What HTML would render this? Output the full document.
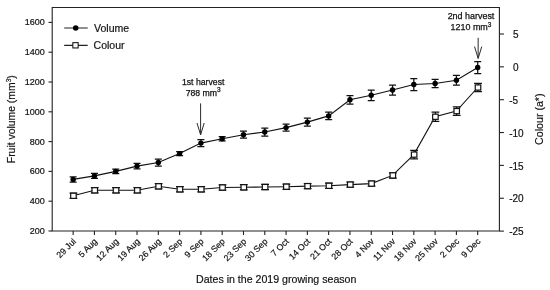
<!DOCTYPE html>
<html><head><meta charset="utf-8"><title>Fruit volume and colour</title>
<style>html,body{margin:0;padding:0;background:#fff}svg{display:block}text{stroke:#111;stroke-width:.18px}text.t{stroke-width:.2px}text.a{stroke-width:.25px}</style></head>
<body>
<svg width="550" height="290" viewBox="0 0 550 290" font-family="Liberation Sans, Arial, sans-serif" fill="#111">
<rect width="550" height="290" fill="#fff"/>
<g stroke="#222" stroke-width="1.1" fill="none">
<path d="M52.2 7.5H499.4V231.0H52.2Z"/>
<path d="M48.5 22.40H52.2"/>
<path d="M48.5 52.20H52.2"/>
<path d="M48.5 82.00H52.2"/>
<path d="M48.5 111.80H52.2"/>
<path d="M48.5 141.60H52.2"/>
<path d="M48.5 171.40H52.2"/>
<path d="M48.5 201.20H52.2"/>
<path d="M48.5 231.00H52.2"/>
<path d="M499.4 34.00H503.9"/>
<path d="M499.4 66.85H503.9"/>
<path d="M499.4 99.70H503.9"/>
<path d="M499.4 132.55H503.9"/>
<path d="M499.4 165.40H503.9"/>
<path d="M499.4 198.25H503.9"/>
<path d="M499.4 231.10H503.9"/>
<path d="M73.15 231.0V235.0"/>
<path d="M94.44 231.0V235.0"/>
<path d="M115.73 231.0V235.0"/>
<path d="M137.03 231.0V235.0"/>
<path d="M158.32 231.0V235.0"/>
<path d="M179.61 231.0V235.0"/>
<path d="M200.90 231.0V235.0"/>
<path d="M222.19 231.0V235.0"/>
<path d="M243.49 231.0V235.0"/>
<path d="M264.78 231.0V235.0"/>
<path d="M286.07 231.0V235.0"/>
<path d="M307.36 231.0V235.0"/>
<path d="M328.65 231.0V235.0"/>
<path d="M349.95 231.0V235.0"/>
<path d="M371.24 231.0V235.0"/>
<path d="M392.53 231.0V235.0"/>
<path d="M413.82 231.0V235.0"/>
<path d="M435.11 231.0V235.0"/>
<path d="M456.41 231.0V235.0"/>
<path d="M477.70 231.0V235.0"/>
</g>
<text x="44.7" y="25.45" font-size="9" text-anchor="end" class="t">1600</text>
<text x="44.7" y="55.25" font-size="9" text-anchor="end" class="t">1400</text>
<text x="44.7" y="85.05" font-size="9" text-anchor="end" class="t">1200</text>
<text x="44.7" y="114.85" font-size="9" text-anchor="end" class="t">1000</text>
<text x="44.7" y="144.65" font-size="9" text-anchor="end" class="t">800</text>
<text x="44.7" y="174.45" font-size="9" text-anchor="end" class="t">600</text>
<text x="44.7" y="204.25" font-size="9" text-anchor="end" class="t">400</text>
<text x="44.7" y="234.05" font-size="9" text-anchor="end" class="t">200</text>
<text x="513" y="38.10" font-size="10">5</text>
<text x="513" y="70.95" font-size="10">0</text>
<text x="509.2" y="103.80" font-size="10">-5</text>
<text x="509.2" y="136.65" font-size="10">-10</text>
<text x="509.2" y="169.50" font-size="10">-15</text>
<text x="509.2" y="202.35" font-size="10">-20</text>
<text x="509.2" y="235.20" font-size="10">-25</text>
<text transform="translate(76.55 242.0) rotate(-45)" font-size="8.8" text-anchor="end">29 Jul</text>
<text transform="translate(97.84 242.0) rotate(-45)" font-size="8.8" text-anchor="end">5 Aug</text>
<text transform="translate(119.13 242.0) rotate(-45)" font-size="8.8" text-anchor="end">12 Aug</text>
<text transform="translate(140.43 242.0) rotate(-45)" font-size="8.8" text-anchor="end">19 Aug</text>
<text transform="translate(161.72 242.0) rotate(-45)" font-size="8.8" text-anchor="end">26 Aug</text>
<text transform="translate(183.01 242.0) rotate(-45)" font-size="8.8" text-anchor="end">2 Sep</text>
<text transform="translate(204.30 242.0) rotate(-45)" font-size="8.8" text-anchor="end">9 Sep</text>
<text transform="translate(225.59 242.0) rotate(-45)" font-size="8.8" text-anchor="end">18 Sep</text>
<text transform="translate(246.89 242.0) rotate(-45)" font-size="8.8" text-anchor="end">23 Sep</text>
<text transform="translate(268.18 242.0) rotate(-45)" font-size="8.8" text-anchor="end">30 Sep</text>
<text transform="translate(289.47 242.0) rotate(-45)" font-size="8.8" text-anchor="end">7 Oct</text>
<text transform="translate(310.76 242.0) rotate(-45)" font-size="8.8" text-anchor="end">14 Oct</text>
<text transform="translate(332.05 242.0) rotate(-45)" font-size="8.8" text-anchor="end">21 Oct</text>
<text transform="translate(353.35 242.0) rotate(-45)" font-size="8.8" text-anchor="end">28 Oct</text>
<text transform="translate(374.64 242.0) rotate(-45)" font-size="8.8" text-anchor="end">4 Nov</text>
<text transform="translate(395.93 242.0) rotate(-45)" font-size="8.8" text-anchor="end">11 Nov</text>
<text transform="translate(417.22 242.0) rotate(-45)" font-size="8.8" text-anchor="end">18 Nov</text>
<text transform="translate(438.51 242.0) rotate(-45)" font-size="8.8" text-anchor="end">25 Nov</text>
<text transform="translate(459.81 242.0) rotate(-45)" font-size="8.8" text-anchor="end">2 Dec</text>
<text transform="translate(481.10 242.0) rotate(-45)" font-size="8.8" text-anchor="end">9 Dec</text>
<g stroke="#111" stroke-width="1.1" fill="none">
<polyline points="73.15,179.40 94.44,175.90 115.73,171.40 137.03,166.10 158.32,162.50 179.61,153.60 200.90,143.10 222.19,138.70 243.49,134.70 264.78,132.00 286.07,127.60 307.36,122.10 328.65,115.90 349.95,99.80 371.24,95.30 392.53,90.00 413.82,84.50 435.11,83.50 456.41,80.20 477.70,67.50"/>
<polyline points="73.15,195.80 94.44,190.30 115.73,190.30 137.03,190.30 158.32,186.30 179.61,189.30 200.90,189.30 222.19,187.50 243.49,187.30 264.78,187.00 286.07,186.70 307.36,186.10 328.65,185.80 349.95,184.60 371.24,183.60 392.53,175.40 413.82,154.60 435.11,116.75 456.41,111.10 477.70,87.50"/>
</g>
<g stroke="#111" stroke-width="1.25" fill="none">
<path d="M73.15 176.80V182.00M69.65 176.80h7M69.65 182.00h7"/>
<path d="M94.44 173.40V178.40M90.94 173.40h7M90.94 178.40h7"/>
<path d="M115.73 169.20V173.60M112.23 169.20h7M112.23 173.60h7"/>
<path d="M137.03 163.30V168.90M133.53 163.30h7M133.53 168.90h7"/>
<path d="M158.32 159.00V166.00M154.82 159.00h7M154.82 166.00h7"/>
<path d="M179.61 151.50V155.70M176.11 151.50h7M176.11 155.70h7"/>
<path d="M200.90 139.50V146.70M197.40 139.50h7M197.40 146.70h7"/>
<path d="M222.19 136.50V140.90M218.69 136.50h7M218.69 140.90h7"/>
<path d="M243.49 131.20V138.20M239.99 131.20h7M239.99 138.20h7"/>
<path d="M264.78 128.00V136.00M261.28 128.00h7M261.28 136.00h7"/>
<path d="M286.07 124.10V131.10M282.57 124.10h7M282.57 131.10h7"/>
<path d="M307.36 118.10V126.10M303.86 118.10h7M303.86 126.10h7"/>
<path d="M328.65 112.10V119.70M325.15 112.10h7M325.15 119.70h7"/>
<path d="M349.95 95.50V104.10M346.45 95.50h7M346.45 104.10h7"/>
<path d="M371.24 90.10V100.50M367.74 90.10h7M367.74 100.50h7"/>
<path d="M392.53 85.00V95.00M389.03 85.00h7M389.03 95.00h7"/>
<path d="M413.82 78.50V90.50M410.32 78.50h7M410.32 90.50h7"/>
<path d="M435.11 79.40V87.60M431.61 79.40h7M431.61 87.60h7"/>
<path d="M456.41 75.30V85.10M452.91 75.30h7M452.91 85.10h7"/>
<path d="M477.70 61.50V73.50M474.20 61.50h7M474.20 73.50h7"/>
<path d="M73.45 193.20V198.40M69.55 193.20h7.8M69.55 198.40h7.8"/>
<path d="M94.74 187.70V192.90M90.84 187.70h7.8M90.84 192.90h7.8"/>
<path d="M116.03 187.70V192.90M112.13 187.70h7.8M112.13 192.90h7.8"/>
<path d="M137.33 187.70V192.90M133.43 187.70h7.8M133.43 192.90h7.8"/>
<path d="M158.62 183.70V188.90M154.72 183.70h7.8M154.72 188.90h7.8"/>
<path d="M179.91 186.70V191.90M176.01 186.70h7.8M176.01 191.90h7.8"/>
<path d="M201.20 186.70V191.90M197.30 186.70h7.8M197.30 191.90h7.8"/>
<path d="M222.49 184.90V190.10M218.59 184.90h7.8M218.59 190.10h7.8"/>
<path d="M243.79 184.70V189.90M239.89 184.70h7.8M239.89 189.90h7.8"/>
<path d="M265.08 184.40V189.60M261.18 184.40h7.8M261.18 189.60h7.8"/>
<path d="M286.37 184.10V189.30M282.47 184.10h7.8M282.47 189.30h7.8"/>
<path d="M307.66 183.50V188.70M303.76 183.50h7.8M303.76 188.70h7.8"/>
<path d="M328.95 183.20V188.40M325.05 183.20h7.8M325.05 188.40h7.8"/>
<path d="M350.25 182.00V187.20M346.35 182.00h7.8M346.35 187.20h7.8"/>
<path d="M371.54 181.00V186.20M367.64 181.00h7.8M367.64 186.20h7.8"/>
<path d="M392.83 172.80V178.00M388.93 172.80h7.8M388.93 178.00h7.8"/>
<path d="M414.12 150.40V158.80M410.22 150.40h7.8M410.22 158.80h7.8"/>
<path d="M435.41 112.05V121.45M431.51 112.05h7.8M431.51 121.45h7.8"/>
<path d="M456.71 106.80V115.40M452.81 106.80h7.8M452.81 115.40h7.8"/>
<path d="M478.00 83.40V91.60M474.10 83.40h7.8M474.10 91.60h7.8"/>
</g>
<circle cx="73.15" cy="179.40" r="2.7" fill="#000"/>
<circle cx="94.44" cy="175.90" r="2.7" fill="#000"/>
<circle cx="115.73" cy="171.40" r="2.7" fill="#000"/>
<circle cx="137.03" cy="166.10" r="2.7" fill="#000"/>
<circle cx="158.32" cy="162.50" r="2.7" fill="#000"/>
<circle cx="179.61" cy="153.60" r="2.7" fill="#000"/>
<circle cx="200.90" cy="143.10" r="2.7" fill="#000"/>
<circle cx="222.19" cy="138.70" r="2.7" fill="#000"/>
<circle cx="243.49" cy="134.70" r="2.7" fill="#000"/>
<circle cx="264.78" cy="132.00" r="2.7" fill="#000"/>
<circle cx="286.07" cy="127.60" r="2.7" fill="#000"/>
<circle cx="307.36" cy="122.10" r="2.7" fill="#000"/>
<circle cx="328.65" cy="115.90" r="2.7" fill="#000"/>
<circle cx="349.95" cy="99.80" r="2.7" fill="#000"/>
<circle cx="371.24" cy="95.30" r="2.7" fill="#000"/>
<circle cx="392.53" cy="90.00" r="2.7" fill="#000"/>
<circle cx="413.82" cy="84.50" r="2.7" fill="#000"/>
<circle cx="435.11" cy="83.50" r="2.7" fill="#000"/>
<circle cx="456.41" cy="80.20" r="2.7" fill="#000"/>
<circle cx="477.70" cy="67.50" r="2.7" fill="#000"/>
<rect x="70.70" y="193.20" width="5.5" height="5.2" fill="#fff" stroke="#111" stroke-width="1.2"/>
<rect x="91.99" y="187.70" width="5.5" height="5.2" fill="#fff" stroke="#111" stroke-width="1.2"/>
<rect x="113.28" y="187.70" width="5.5" height="5.2" fill="#fff" stroke="#111" stroke-width="1.2"/>
<rect x="134.58" y="187.70" width="5.5" height="5.2" fill="#fff" stroke="#111" stroke-width="1.2"/>
<rect x="155.87" y="183.70" width="5.5" height="5.2" fill="#fff" stroke="#111" stroke-width="1.2"/>
<rect x="177.16" y="186.70" width="5.5" height="5.2" fill="#fff" stroke="#111" stroke-width="1.2"/>
<rect x="198.45" y="186.70" width="5.5" height="5.2" fill="#fff" stroke="#111" stroke-width="1.2"/>
<rect x="219.74" y="184.90" width="5.5" height="5.2" fill="#fff" stroke="#111" stroke-width="1.2"/>
<rect x="241.04" y="184.70" width="5.5" height="5.2" fill="#fff" stroke="#111" stroke-width="1.2"/>
<rect x="262.33" y="184.40" width="5.5" height="5.2" fill="#fff" stroke="#111" stroke-width="1.2"/>
<rect x="283.62" y="184.10" width="5.5" height="5.2" fill="#fff" stroke="#111" stroke-width="1.2"/>
<rect x="304.91" y="183.50" width="5.5" height="5.2" fill="#fff" stroke="#111" stroke-width="1.2"/>
<rect x="326.20" y="183.20" width="5.5" height="5.2" fill="#fff" stroke="#111" stroke-width="1.2"/>
<rect x="347.50" y="182.00" width="5.5" height="5.2" fill="#fff" stroke="#111" stroke-width="1.2"/>
<rect x="368.79" y="181.00" width="5.5" height="5.2" fill="#fff" stroke="#111" stroke-width="1.2"/>
<rect x="390.08" y="172.80" width="5.5" height="5.2" fill="#fff" stroke="#111" stroke-width="1.2"/>
<rect x="411.37" y="152.00" width="5.5" height="5.2" fill="#fff" stroke="#111" stroke-width="1.2"/>
<rect x="432.66" y="114.15" width="5.5" height="5.2" fill="#fff" stroke="#111" stroke-width="1.2"/>
<rect x="453.96" y="108.50" width="5.5" height="5.2" fill="#fff" stroke="#111" stroke-width="1.2"/>
<rect x="475.25" y="84.90" width="5.5" height="5.2" fill="#fff" stroke="#111" stroke-width="1.2"/>
<path d="M64.2 28H87.7M64.2 45.3H87.7" stroke="#222" stroke-width="1.15"/>
<circle cx="75.7" cy="28" r="2.75" fill="#000"/>
<rect x="72.85" y="42.65" width="5.3" height="5.3" fill="#fff" stroke="#111" stroke-width="1.05"/>
<text x="94" y="31.5" font-size="10.55">Volume</text>
<text x="93.6" y="49.1" font-size="10.5">Colour</text>
<text x="203.2" y="85" font-size="8.7" text-anchor="middle" class="a">1st harvest</text>
<text x="203.2" y="95.9" font-size="8.7" text-anchor="middle" class="a">788 mm<tspan dy="-3.5" font-size="6.5">3</tspan></text>
<text x="471" y="18.8" font-size="8.95" text-anchor="middle" class="a">2nd harvest</text>
<text x="471" y="30.0" font-size="8.95" text-anchor="middle" class="a">1210 mm<tspan dy="-3.5" font-size="6.5">3</tspan></text>
<path d="M200.6 103.4V134.8M197.00 123.00L200.6 134.8L204.20 123.00" stroke="#2a2a2a" stroke-width="1" stroke-linejoin="miter" fill="none"/>
<path d="M478.15 37.8V58.4M474.55 46.60L478.15 58.4L481.75 46.60" stroke="#2a2a2a" stroke-width="1" stroke-linejoin="miter" fill="none"/>
<text transform="translate(15.4 119.2) rotate(-90)" font-size="10.4" text-anchor="middle">Fruit volume (mm<tspan dy="-4.7" font-size="6.6">3</tspan><tspan dy="4.7">)</tspan></text>
<text transform="translate(542.9 119.2) rotate(-90)" font-size="10.65" text-anchor="middle">Colour (a*)</text>
<text x="276.2" y="283" font-size="10.62" text-anchor="middle">Dates in the 2019 growing season</text>
</svg>
</body></html>
